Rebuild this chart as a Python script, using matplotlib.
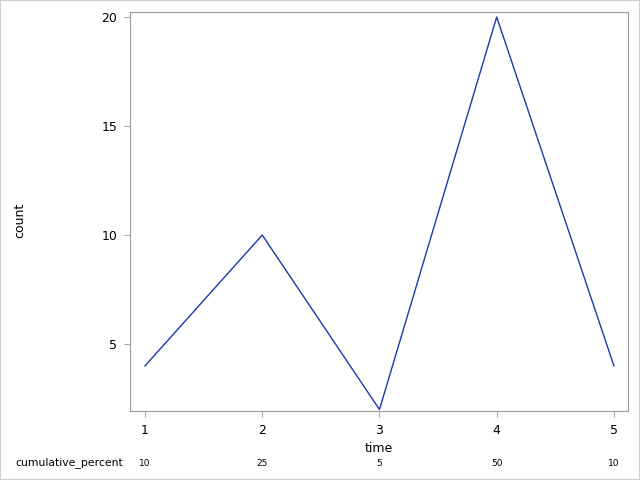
import matplotlib
matplotlib.use("Agg")
import matplotlib.pyplot as plt
from matplotlib.patches import Rectangle

time = [1, 2, 3, 4, 5]
count = [4, 10, 2, 20, 4]
cumulative_percent = [10, 25, 5, 50, 10]
yticks = [5, 10, 15, 20]

plt.rcParams['font.family'] = ['DejaVu Sans']
fig = plt.figure(figsize=(6.4, 4.8), dpi=100)
fig.patches.append(Rectangle((0, 0), 1, 1, transform=fig.transFigure, fill=False,
                             edgecolor='#d0d0d0', linewidth=1.5))
ax = fig.add_axes([130/640, 1-411/480, 498/640, 399/480])
ax.plot(time, count, color='#1a3aa8', linewidth=1.0)
ax.set_xlim(0.872, 5.12)
ax.set_ylim(1.93, 20.23)
ax.set_xticks(time)
ax.set_yticks(yticks)
for s in ax.spines.values():
    s.set_color('#999999')
ax.tick_params(colors='#aaaaaa', labelcolor='black', labelsize=9, length=4, width=0.8, pad=5)
ax.set_xlabel('time', fontsize=9, labelpad=4)
fig.text(20/640, 1-220/480, 'count', rotation=90, fontsize=9, ha='center', va='center')
fig.text(15/640, 1-463/480, 'cumulative_percent', fontsize=7.8, ha='left', va='center')
for t, c in zip(time, cumulative_percent):
    x_fig = fig.transFigure.inverted().transform(ax.transData.transform((t, 0)))[0]
    fig.text(x_fig, 1-463/480, str(c), fontsize=6.5, ha='center', va='center')
fig.savefig('out.png', dpi=100)
